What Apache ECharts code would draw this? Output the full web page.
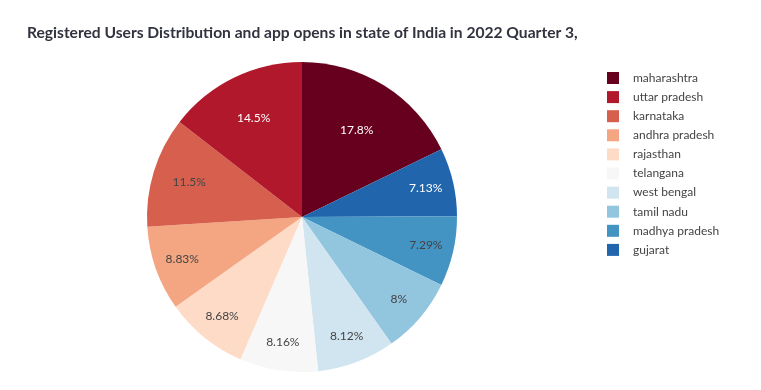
<!DOCTYPE html>
<html>
<head>
<meta charset="utf-8">
<script src="https://cdn.jsdelivr.net/npm/echarts@6/dist/echarts.min.js"></script>
<style>html,body{margin:0;padding:0;background:#fff}#c{width:761px;height:390px}</style>
</head>
<body>
<div id="c"></div>
<script>
// ---- data ----
const titleText = 'Registered Users Distribution and app opens in state of India in 2022 Quarter 3,';
const categories = ['maharashtra','gujarat','madhya pradesh','tamil nadu','west bengal','telangana','rajasthan','andhra pradesh','karnataka','uttar pradesh'];
const shares = [17.8, 7.13, 7.29, 8, 8.12, 8.16, 8.68, 8.83, 11.5, 14.5];
const legendOrder = ['maharashtra','uttar pradesh','karnataka','andhra pradesh','rajasthan','telangana','west bengal','tamil nadu','madhya pradesh','gujarat'];

// ---- styles ----
const colorMap = {
  'maharashtra':'#67001f','uttar pradesh':'#b2182b','karnataka':'#d6604d','andhra pradesh':'#f4a582',
  'rajasthan':'#fddbc7','telangana':'#f7f7f7','west bengal':'#d1e5f0','tamil nadu':'#92c5de',
  'madhya pradesh':'#4393c3','gujarat':'#2166ac'
};
const lightText = {'maharashtra':true,'uttar pradesh':true,'gujarat':true};
const labelRadius = {'maharashtra':100,'uttar pradesh':107,'karnataka':115};
const defaultLabelRadius = 124;
const FONT = "'Source Sans Pro', Lato, 'Noto Sans', sans-serif";
const CENTER = [302, 217];
const R = 155;

const mainData = categories.map((n, i) => ({name: n, value: shares[i], itemStyle: {color: colorMap[n]}}));

const radii = Array.from(new Set(categories.map(n => labelRadius[n] || defaultLabelRadius)));
const labelSeries = radii.map(rr => ({
  type: 'pie', silent: true, clockwise: true, startAngle: 90,
  center: CENTER, radius: [0, rr * 2], avoidLabelOverlap: false,
  itemStyle: {color: 'rgba(0,0,0,0)', borderWidth: 0},
  labelLine: {show: false},
  emphasis: {disabled: true},
  data: categories.map((n, i) => ({
    name: n + '\u200b', value: shares[i],
    label: {
      show: (labelRadius[n] || defaultLabelRadius) === rr,
      position: 'inside',
      formatter: () => shares[i] + '%',
      color: lightText[n] ? '#ffffff' : '#444444',
      fontSize: 12, fontFamily: FONT
    }
  }))
}));

const chart = echarts.init(document.getElementById('c'), null, {renderer: 'canvas'});
chart.setOption({
  animation: false,
  title: {
    text: titleText, left: 22, top: 20,
    textStyle: {fontSize: 15.6, fontWeight: 'bold', color: '#31333F', fontFamily: FONT}
  },
  legend: {
    orient: 'vertical', left: 602, top: 67,
    data: legendOrder, icon: 'rect', itemWidth: 12, itemHeight: 12, itemGap: 7.1,
    selectedMode: false,
    textStyle: {fontSize: 12, color: '#444444', fontFamily: FONT, padding: [0, 0, 0, 9]}
  },
  series: [{
    type: 'pie', clockwise: true, startAngle: 90,
    center: CENTER, radius: [0, R], avoidLabelOverlap: false,
    label: {show: false}, labelLine: {show: false},
    itemStyle: {borderWidth: 0},
    emphasis: {scale: false},
    data: mainData
  }].concat(labelSeries)
});
</script>
</body>
</html>
